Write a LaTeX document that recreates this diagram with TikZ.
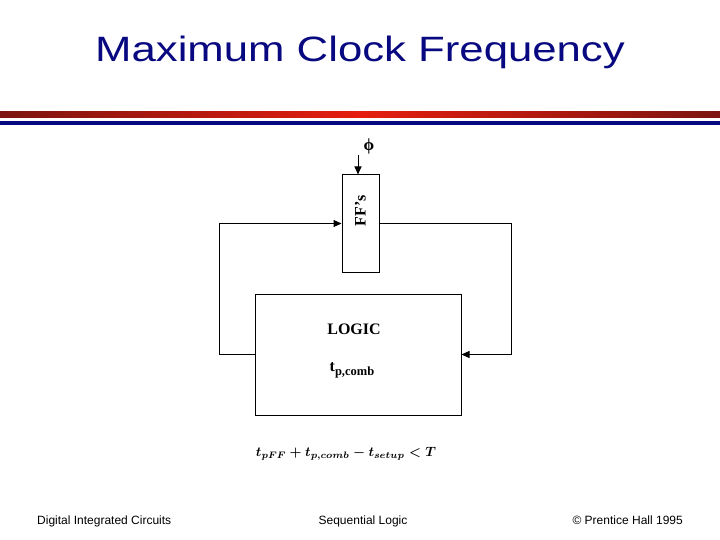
\documentclass[tikz,border=0pt]{standalone}
\usepackage{fontspec}
\usepackage{graphicx}
\setmainfont{Liberation Serif}
\newfontfamily\slidefont{Liberation Sans}
\usetikzlibrary{arrows.meta}
\definecolor{slidenavy}{RGB}{8,8,128}
\definecolor{bardark}{RGB}{125,20,15}
\definecolor{barlight}{RGB}{230,30,15}
\begin{document}
\begin{tikzpicture}[x=1pt,y=-1pt,
		box/.style={draw,line width=1pt,inner sep=0pt},
		flow/.style={line width=1pt,-{Triangle[length=8pt,width=7pt]}},
		lbl/.style={font=\bfseries\fontsize{16}{16}\selectfont,inner sep=0pt},
		foot/.style={font=\slidefont\fontsize{12}{12}\selectfont,inner sep=0pt}]
		\useasboundingbox[fill=white] (0,0) rectangle (720,540);
		% title and bars
		\node[anchor=base,inner sep=0pt,text=slidenavy] (title) at (360,62) {\scalebox{1.305}[1.05]{\slidefont\fontsize{33.5}{34}\selectfont Maximum Clock Frequency}};
		\shade[left color=bardark,right color=bardark,middle color=barlight] (0,111.7) rectangle (720,118);
		\fill[slidenavy] (0,120.7) rectangle (720,125);
		% blocks
		\node[box,minimum width=37pt,minimum height=97pt] (ff) at (360.5,223.5) {};
		\node[lbl,rotate=90] (fflbl) at (360.5,211) {FF’s};
		\node[box,minimum width=206pt,minimum height=121pt] (logic) at (358,354.5) {};
		\node[lbl] (logiclbl) at (354,329) {LOGIC};
		\node[lbl,anchor=base] (tcomb) at (352,371) {t\raisebox{-4.5pt}{\fontsize{12.5}{12}\selectfont p,comb}};
		\node[inner sep=0pt,font=\bfseries\fontsize{17}{17}\selectfont] (phi) at (369,146) {ϕ};
		\coordinate (clk) at (358,155);
		% connections
		\draw[flow] (clk) -- (clk |- ff.north);
		\draw[flow] (logic.west) -- ++(-35,0) |- (ff.west);
		\draw[flow] (ff.east) -- ++(132,0) |- (logic.east);
		% timing condition
		\node[inner sep=0pt] (cond) at (346,454) {\resizebox{180pt}{!}{\boldmath$t_{pFF}+t_{p,comb}-t_{setup}<T$}};
		% footer
		\node[foot,anchor=base west] (fleft) at (37,524) {Digital Integrated Circuits};
		\node[foot,anchor=base] (fmid) at (363,524) {Sequential Logic};
		\node[foot,anchor=base east] (fright) at (683,524) {© Prentice Hall 1995};
	\end{tikzpicture}
\end{document}
